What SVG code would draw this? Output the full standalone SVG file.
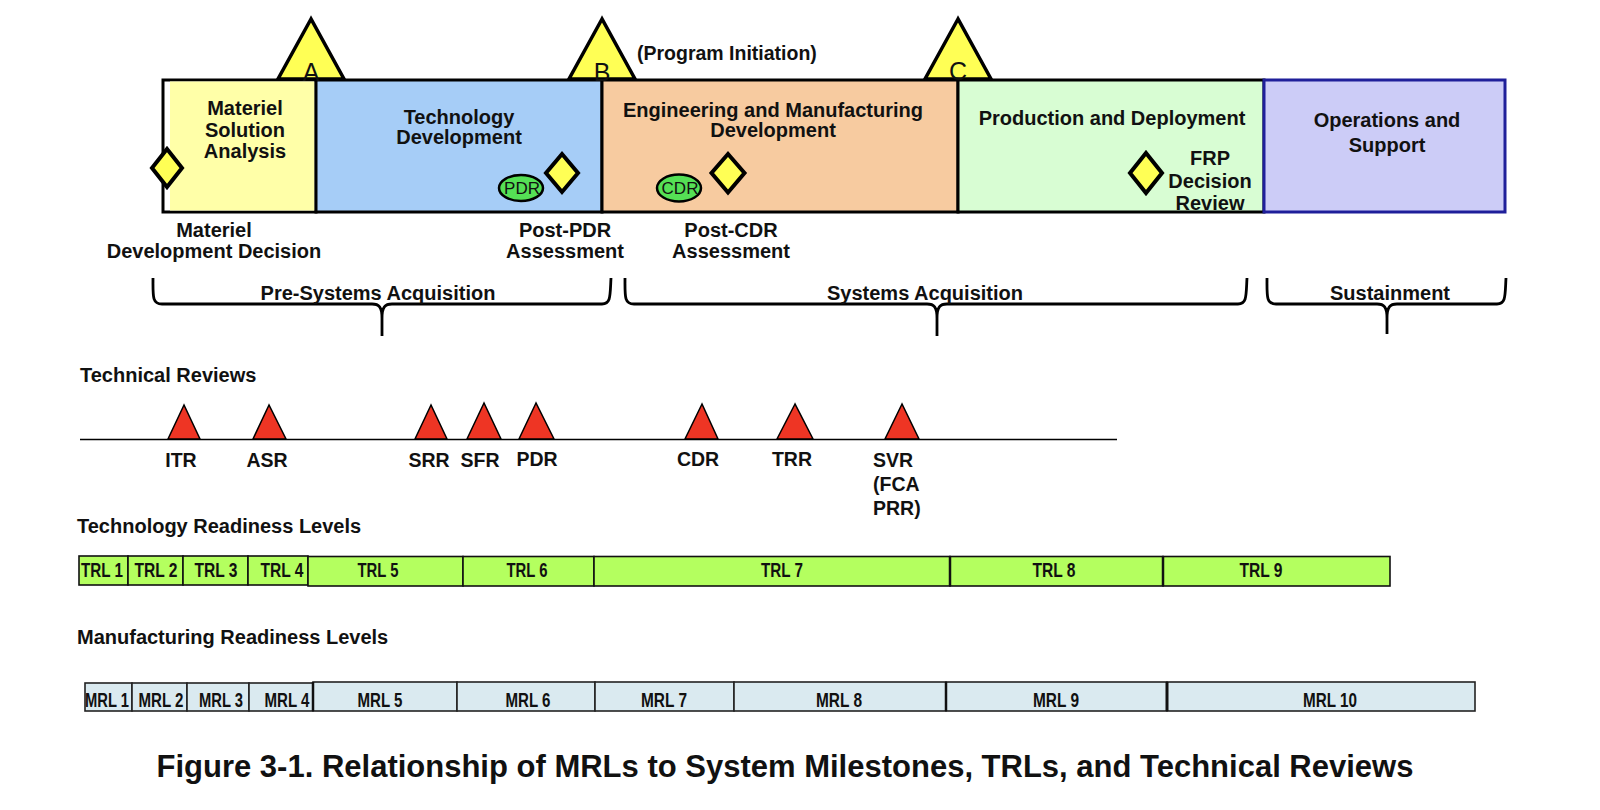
<svg xmlns="http://www.w3.org/2000/svg" width="1600" height="810" viewBox="0 0 1600 810">
<style>
text{font-family:"Liberation Sans",Arial,Helvetica,sans-serif;font-weight:bold;fill:#111;}
.c{text-anchor:middle;}
.t20{font-size:20px;}
.t19{font-size:19.5px;}
.reg{font-weight:normal;}
.nar{font-size:19.5px;text-anchor:middle;}
.phase{stroke:#000;stroke-width:3;}
.ms{fill:#FFFF55;stroke:#000;stroke-width:3.5;stroke-linejoin:miter;}
.dia{fill:#FFFF55;stroke:#000;stroke-width:4;}
.ell{fill:#55E055;stroke:#000;stroke-width:2.5;}
.rev{fill:#EE3524;stroke:#000;stroke-width:1.5;stroke-linejoin:miter;}
.brace{fill:none;stroke:#000;stroke-width:2.8;}
.trl{fill:#B4FF5F;stroke:#111;stroke-width:1.6;}
.mrl{fill:#DAEAF0;stroke:#222;stroke-width:1.6;}
</style>
<rect width="1600" height="810" fill="#fff"/>

<!-- Phase boxes -->
<g id="msa">
<rect x="163" y="80" width="153" height="132" fill="#fff" class="phase"/>
<rect x="170" y="81.5" width="144.5" height="129" fill="#FFFFA8"/>
<text class="c t20" x="245" y="115">Materiel</text>
<text class="c t20" x="245" y="137">Solution</text>
<text class="c t20" x="245" y="158">Analysis</text>
</g>
<g id="td">
<rect x="316" y="80" width="286" height="132" fill="#A6CDF7" class="phase"/>
<text class="c t20" x="459" y="124">Technology</text>
<text class="c t20" x="459" y="144">Development</text>
</g>
<g id="emd">
<rect x="602" y="80" width="356" height="132" fill="#F7CBA0" class="phase"/>
<text class="c t20" x="773" y="117">Engineering and Manufacturing</text>
<text class="c t20" x="773" y="137">Development</text>
</g>
<g id="pd">
<rect x="958" y="80" width="306" height="132" fill="#D8FDD3" class="phase"/>
<text class="c t20" x="1112" y="125">Production and Deployment</text>
</g>
<g id="os">
<rect x="1264" y="80" width="241" height="132" fill="#CCCCF7" stroke="#1F1F9A" stroke-width="3"/>
<text class="c t20" x="1387" y="127">Operations and</text>
<text class="c t20" x="1387" y="152">Support</text>
</g>

<!-- Milestones -->
<g id="milestone-a">
<polygon class="ms" points="311,19 278,79 344,79"/>
<text class="c reg" x="311" y="81" font-size="25">A</text>
</g>
<g id="milestone-b">
<polygon class="ms" points="602,19 569,79 635,79"/>
<text class="c reg" x="602" y="81" font-size="25">B</text>
</g>
<text class="t19" x="637" y="60">(Program Initiation)</text>
<g id="milestone-c">
<polygon class="ms" points="958,19 925,79 991,79"/>
<text class="c reg" x="958" y="80" font-size="25">C</text>
</g>

<!-- Decision points -->
<g id="mdd">
<polygon class="dia" points="167,149 182,168 167,187 152,168"/>
<text class="c t20" x="214" y="237">Materiel</text>
<text class="c t20" x="214" y="258">Development Decision</text>
</g>
<g id="pdr-ellipse">
<ellipse class="ell" cx="521" cy="188" rx="22" ry="13"/>
<text class="c reg" x="522" y="194" font-size="17">PDR</text>
</g>
<g id="post-pdr">
<polygon class="dia" points="562,154 578,173 562,192 546,173"/>
<text class="c t20" x="565" y="237">Post-PDR</text>
<text class="c t20" x="565" y="258">Assessment</text>
</g>
<g id="cdr-ellipse">
<ellipse class="ell" cx="679" cy="188" rx="22" ry="13.5"/>
<text class="c reg" x="680" y="194" font-size="17">CDR</text>
</g>
<g id="post-cdr">
<polygon class="dia" points="728,154 744.5,173 728,192.5 711.5,173"/>
<text class="c t20" x="731" y="237">Post-CDR</text>
<text class="c t20" x="731" y="258">Assessment</text>
</g>
<g id="frp">
<polygon class="dia" points="1146,153 1162,173 1146,193 1130,173"/>
<text class="c t20" x="1210" y="165">FRP</text>
<text class="c t20" x="1210" y="188">Decision</text>
<text class="c t20" x="1210" y="210">Review</text>
</g>

<!-- Braces -->
<g id="braces">
<path class="brace" d="M153,278 C153,296 152,304 162,304 L372,304 C379,304 382,307 382,318 L382,336 M382,318 C382,307 385,304 392,304 L602,304 C611,304 610,296 611,278"/>
<path class="brace" d="M625,278 C625,296 624,304 634,304 L927,304 C934,304 937,307 937,318 L937,336 M937,318 C937,307 940,304 947,304 L1238,304 C1247,304 1246,296 1247,278"/>
<path class="brace" d="M1267,278 C1267,296 1266,304 1276,304 L1377,304 C1384,304 1387,307 1387,318 L1387,334 M1387,318 C1387,307 1390,304 1397,304 L1497,304 C1506,304 1505,296 1506,278"/>
</g>
<text class="c t20" x="378" y="300">Pre-Systems Acquisition</text>
<text class="c t20" x="925" y="300">Systems Acquisition</text>
<text class="c t20" x="1390" y="300">Sustainment</text>

<!-- Technical reviews -->
<text class="t20" x="80" y="382">Technical Reviews</text>
<g id="connectors">
<line x1="80" y1="439.5" x2="1117" y2="439.5" stroke="#000" stroke-width="1.5"/>
</g>
<g id="itr"><polygon class="rev" points="184,405 168,439 200,439"/><text class="c t19" x="181" y="467">ITR</text></g>
<g id="asr"><polygon class="rev" points="269,405 253,439 286,439"/><text class="c t19" x="267" y="467">ASR</text></g>
<g id="srr"><polygon class="rev" points="431,405 415,439 447,439"/><text class="c t19" x="429" y="467">SRR</text></g>
<g id="sfr"><polygon class="rev" points="484,403 467,439 501,439"/><text class="c t19" x="480" y="467">SFR</text></g>
<g id="pdr"><polygon class="rev" points="536,403 519,439 554,439"/><text class="c t19" x="537" y="466">PDR</text></g>
<g id="cdr"><polygon class="rev" points="702,404 685,439 718,439"/><text class="c t19" x="698" y="466">CDR</text></g>
<g id="trr"><polygon class="rev" points="795,404 777,439 813,439"/><text class="c t19" x="792" y="466">TRR</text></g>
<g id="svr"><polygon class="rev" points="902,404 885,439 919,439"/>
<text class="t19" x="873" y="467">SVR</text>
<text class="t19" x="873" y="491">(FCA</text>
<text class="t19" x="873" y="515">PRR)</text></g>

<!-- TRLs -->
<text class="t20" x="77" y="533">Technology  Readiness Levels</text>
<g id="trl">
<rect class="trl" x="79" y="556" width="49" height="29"/>
<rect class="trl" x="128" y="556" width="55" height="29"/>
<rect class="trl" x="183" y="556" width="65" height="29"/>
<rect class="trl" x="248" y="556" width="60" height="29"/>
<rect class="trl" x="308" y="556.5" width="155" height="29.5"/>
<rect class="trl" x="463" y="556.5" width="131" height="29.5"/>
<rect class="trl" x="594" y="556.5" width="356" height="29.5"/>
<rect class="trl" x="950" y="556.5" width="213" height="29.5"/>
<rect class="trl" x="1163" y="556.5" width="227" height="29.5"/>
<line x1="950" y1="556" x2="950" y2="586" stroke="#111" stroke-width="2.5"/>
<line x1="1163" y1="556" x2="1163" y2="586" stroke="#111" stroke-width="2.5"/>
<text class="nar" x="102" y="577" textLength="42" lengthAdjust="spacingAndGlyphs">TRL 1</text>
<text class="nar" x="156" y="577" textLength="43" lengthAdjust="spacingAndGlyphs">TRL 2</text>
<text class="nar" x="216" y="577" textLength="43" lengthAdjust="spacingAndGlyphs">TRL 3</text>
<text class="nar" x="282" y="577" textLength="43" lengthAdjust="spacingAndGlyphs">TRL 4</text>
<text class="nar" x="378" y="577" textLength="41" lengthAdjust="spacingAndGlyphs">TRL 5</text>
<text class="nar" x="527" y="577" textLength="41" lengthAdjust="spacingAndGlyphs">TRL 6</text>
<text class="nar" x="782" y="577" textLength="42" lengthAdjust="spacingAndGlyphs">TRL 7</text>
<text class="nar" x="1054" y="577" textLength="43" lengthAdjust="spacingAndGlyphs">TRL 8</text>
<text class="nar" x="1261" y="577" textLength="43" lengthAdjust="spacingAndGlyphs">TRL 9</text>
</g>

<!-- MRLs -->
<text class="t20" x="77" y="644">Manufacturing Readiness Levels</text>
<g id="mrl">
<rect class="mrl" x="85" y="683" width="47" height="28"/>
<rect class="mrl" x="132" y="683" width="55" height="28"/>
<rect class="mrl" x="187" y="683" width="62" height="28"/>
<rect class="mrl" x="249" y="683" width="64" height="28"/>
<rect class="mrl" x="313" y="682" width="144" height="29"/>
<rect class="mrl" x="457" y="682" width="138" height="29"/>
<rect class="mrl" x="595" y="682" width="139" height="29"/>
<rect class="mrl" x="734" y="682" width="212" height="29"/>
<rect class="mrl" x="946" y="682" width="221" height="29"/>
<rect class="mrl" x="1167" y="682" width="308" height="29"/>
<line x1="313" y1="682" x2="313" y2="711" stroke="#111" stroke-width="2.5"/>
<line x1="946" y1="682" x2="946" y2="711" stroke="#111" stroke-width="2.5"/>
<line x1="1167" y1="682" x2="1167" y2="711" stroke="#111" stroke-width="3"/>
<text class="nar" x="107" y="707" textLength="44" lengthAdjust="spacingAndGlyphs">MRL 1</text>
<text class="nar" x="161" y="707" textLength="45" lengthAdjust="spacingAndGlyphs">MRL 2</text>
<text class="nar" x="221" y="707" textLength="44" lengthAdjust="spacingAndGlyphs">MRL 3</text>
<text class="nar" x="287" y="707" textLength="45" lengthAdjust="spacingAndGlyphs">MRL 4</text>
<text class="nar" x="380" y="707" textLength="45" lengthAdjust="spacingAndGlyphs">MRL 5</text>
<text class="nar" x="528" y="707" textLength="45" lengthAdjust="spacingAndGlyphs">MRL 6</text>
<text class="nar" x="664" y="707" textLength="46" lengthAdjust="spacingAndGlyphs">MRL 7</text>
<text class="nar" x="839" y="707" textLength="46" lengthAdjust="spacingAndGlyphs">MRL 8</text>
<text class="nar" x="1056" y="707" textLength="46" lengthAdjust="spacingAndGlyphs">MRL 9</text>
<text class="nar" x="1330" y="707" textLength="54" lengthAdjust="spacingAndGlyphs">MRL 10</text>
</g>

<text class="c" x="785" y="777" font-size="31">Figure 3-1. Relationship of MRLs to System Milestones, TRLs, and Technical Reviews</text>
</svg>
